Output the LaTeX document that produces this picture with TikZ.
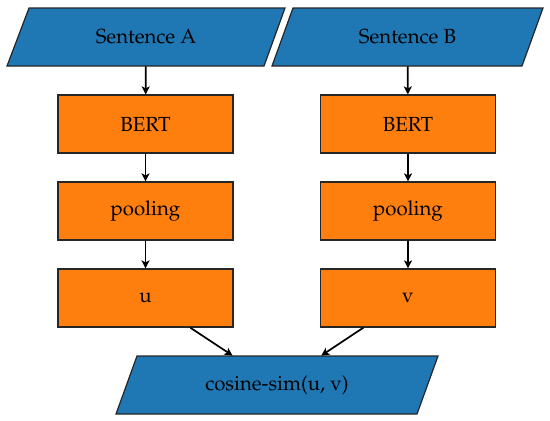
\documentclass[tikz,border=0pt]{standalone}
\usepackage[T1]{fontenc}
\usepackage{mathpazo}
\usetikzlibrary{arrows.meta}
\definecolor{tabblue}{RGB}{31,119,180}
\definecolor{taborange}{RGB}{255,127,14}
\tikzset{
  parashape/.style={draw=black!85, line width=0.6pt, fill=tabblue},
  paratext/.style={rectangle, minimum height=29pt, inner sep=0pt},
  procbox/.style={rectangle, draw=black!85, line width=0.6pt, fill=taborange,
    minimum width=87.5pt, minimum height=29pt, inner sep=0pt},
  conn/.style={-{Stealth[length=4pt,width=4pt,inset=1pt]}, line width=0.85pt, black}
}
\begin{document}
\begin{tikzpicture}[x=0.5pt, y=-0.5pt, font=\fontsize{10.2}{12}\selectfont]
\useasboundingbox (0,0) rectangle (550,420);
\draw[parashape] (29,8) -- (285,8) -- (264,66) -- (7,66) -- cycle;
\draw[parashape] (293,8) -- (543,8) -- (522,66) -- (272,66) -- cycle;
\draw[parashape] (137,356) -- (438,356) -- (417,414) -- (116,414) -- cycle;
\node[paratext, minimum width=128pt] (sa) at (146,37) {Sentence A};
\node[paratext, minimum width=125pt] (sb) at (407.5,37) {Sentence B};
\node[paratext, minimum width=150pt] (cs) at (277,385) {cosine-sim(u, v)};
\node[procbox] (ba) at (145.5,124) {BERT};
\node[procbox] (bb) at (408,124) {BERT};
\node[procbox] (pa) at (145.5,211) {pooling};
\node[procbox] (pb) at (408,211) {pooling};
\node[procbox] (u) at (145.5,298) {u};
\node[procbox] (v) at (408,298) {v};
\draw[conn] (sa) -- (ba);
\draw[conn] (ba) -- (pa);
\draw[conn] (pa) -- (u);
\draw[conn] (sb) -- (bb);
\draw[conn] (bb) -- (pb);
\draw[conn] (pb) -- (v);
\draw[conn] (u) -- (cs);
\draw[conn] (v) -- (cs);
\end{tikzpicture}
\end{document}
